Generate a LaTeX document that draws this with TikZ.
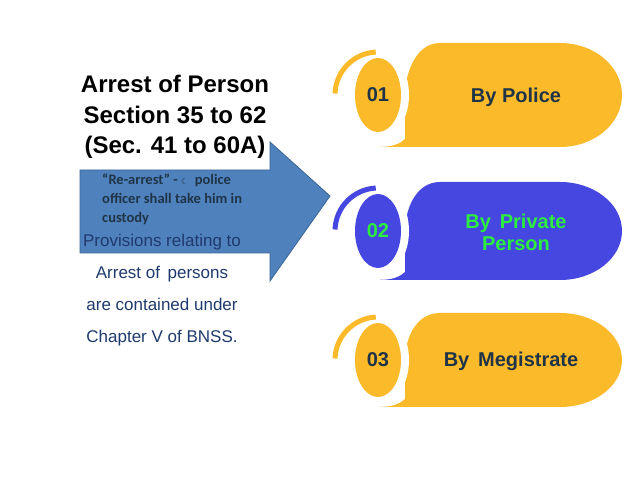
\documentclass[tikz,border=0pt]{standalone}
\usepackage{fontspec}
\setmainfont{Liberation Sans}
\newfontfamily\carl{Carlito}
\newfontfamily\dvsans{DejaVu Sans}
\usetikzlibrary{calc}
\definecolor{ylw}{HTML}{FBBA2A}
\definecolor{blu}{HTML}{4646E0}
\definecolor{navy}{HTML}{1F3446}
\definecolor{grn}{HTML}{2BEE3F}
\definecolor{arw}{HTML}{4F81BD}
\definecolor{arwd}{HTML}{3A6596}
\definecolor{prov}{HTML}{1F3A6D}
\tikzset{
 ttl/.style={font=\bfseries\fontsize{24}{30.5}\selectfont, text=black, align=center},
 prov/.style={font=\fontsize{17}{32}\selectfont, text=prov, align=center},
 lab/.style={font=\bfseries\fontsize{20}{22}\selectfont, align=center},
}
\newcommand{\stage}[5]{% y-center, top, bottom, colour, name
 \fill[#4] (380,#3) -- (560,#3) arc[start angle=90,end angle=-90,x radius=62,y radius={(#3-#2)/2}] -- (440,#2)
   .. controls (415,#2) and (405,#1-20) .. (405,#1) -- (405,#3) -- cycle;
 \fill[white] (378,#1) ellipse[x radius=31,y radius=45];
 \fill[#4] (380,#3) .. controls (395,#3) and (404,#3-5) .. (408,#3-12) -- (418,#3-12) -- (418,#3) -- cycle;
 \fill[#4] (378,#1) ellipse[x radius=23,y radius=37];
 \draw[#4, line width=5pt] ($(378,#1)+(-93:43)$) arc[start angle=-93,end angle=-178,radius=43];
 \coordinate (#5) at (378,#1);
}
\begin{document}
\begin{tikzpicture}[x=1pt,y=-1pt]
\useasboundingbox (0,0) rectangle (638,478);
\fill[white] (0,0) rectangle (638,478);
\draw[arwd, fill=arw, line width=0.8pt] (80,170) -- (270,170) -- (270,142) -- (330,196) -- (270,281) -- (270,253) -- (80,253) -- cycle;
\node[ttl] (title) at (175,117) {Arrest of Person\\Section 35 to 62\\(Sec. 41 to 60A)};
\node[anchor=north west, align=left, text=navy, inner sep=0pt, font=\carl\bfseries\fontsize{14.5}{19}\selectfont] (rearrest) at (102,174)
 {“Re-arrest” - {\dvsans\fontsize{8}{8}\selectfont ☾} \ police\\officer shall take him in\\custody};
\node[prov] (provis) at (162,290) {Provisions relating to\\Arrest of\, persons\\are contained under\\Chapter V of BNSS.};
\stage{95}{43}{147}{ylw}{c1}
\stage{231}{182}{280}{blu}{c2}
\stage{360}{313}{407}{ylw}{c3}
\node[lab, text=navy] (n1) at (c1) {01};
\node[lab, text=grn] (n2) at (c2) {02};
\node[lab, text=navy] (n3) at (c3) {03};
\node[lab, text=navy] (l1) at (516,97) {By Police};
\node[lab, text=grn] (l2) at (516,232) {By\, Private\\Person};
\node[lab, text=navy] (l3) at (511,361) {By\, Megistrate};
\end{tikzpicture}
\end{document}
